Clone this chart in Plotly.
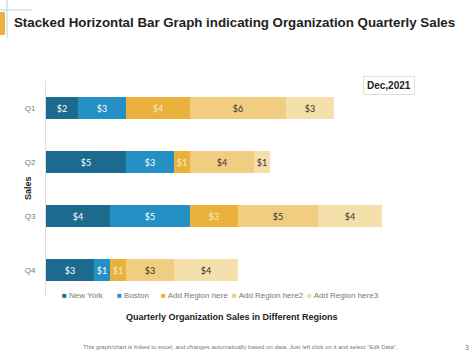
import plotly.graph_objects as go

quarters = ["Q1", "Q2", "Q3", "Q4"]
series_names = ["New York", "Boston", "Add Region here", "Add Region here2", "Add Region here3"]
new_york = [2, 5, 4, 3]
boston = [3, 3, 5, 1]
region1 = [4, 1, 3, 1]
region2 = [6, 4, 5, 3]
region3 = [3, 1, 4, 4]
values = [new_york, boston, region1, region2, region3]
colors = ["#1D6A8F", "#2490C4", "#EAB23C", "#F0CD80", "#F5DFAA"]
text_colors = ["#FFFFFF", "#FFFFFF", "#F7EBCB", "#333333", "#333333"]
legend_x_px = [60, 115, 159, 230, 305]

W, H = 474, 355
L, R, T, B = 46, 52, 81, 58
pw, ph = W - L - R, H - T - B

def px(x):
    return (x - L) / pw

def py(y):
    return (H - B - y) / ph

fig = go.Figure()
for name, vals, c, tc in zip(series_names, values, colors, text_colors):
    fig.add_trace(go.Bar(
        y=quarters, x=vals, name=name, orientation="h",
        marker=dict(color=c, line=dict(width=0)),
        texttemplate="$%{x}", textposition="inside", insidetextanchor="middle",
        textfont=dict(color=tc, size=9, family="Lato"),
        constraintext="none", showlegend=False,
    ))

fig.update_layout(
    width=W, height=H,
    margin=dict(l=L, r=R, t=T, b=B),
    barmode="stack", bargap=0.6,
    paper_bgcolor="white", plot_bgcolor="white",
    showlegend=False,
    xaxis=dict(range=[0, pw / 16], visible=False, fixedrange=True),
    yaxis=dict(categoryorder="array", categoryarray=quarters[::-1],
               showline=True, linecolor="#DDDDDD", linewidth=1,
               ticks="", tickfont=dict(size=8, color="#777777", family="Liberation Sans"),
               ticklabelstandoff=8, showgrid=False),
)

ann = [
    dict(text="<b>Stacked Horizontal Bar Graph indicating Organization Quarterly Sales</b>",
         x=px(12), y=py(23), xanchor="left", yanchor="middle",
         font=dict(size=13.3, color="#222222", family="Liberation Sans")),
    dict(text="<b>Sales</b>", x=px(28), y=py(188), textangle=-90, xanchor="center", yanchor="middle",
         font=dict(size=9, color="#222222", family="Liberation Sans")),
    dict(text="<b>Quarterly Organization Sales in Different Regions</b>",
         x=px(232), y=py(317), xanchor="center", yanchor="middle",
         font=dict(size=9, color="#222222", family="Liberation Sans")),
    dict(text="<b>Dec,2021</b>", x=px(389), y=py(85.5), xanchor="center", yanchor="middle",
         font=dict(size=10, color="#222222", family="Liberation Sans"),
         bordercolor="#E0E0E0", borderwidth=1, borderpad=3, bgcolor="white"),
    dict(text="This graph/chart is linked to excel, and changes automatically based on data. Just left click on it and select \u201cEdit Data\u201d.",
         x=px(241), y=py(347), xanchor="center", yanchor="middle",
         font=dict(size=6, color="#777777", family="Liberation Sans")),
    dict(text="3", x=px(467), y=py(347), xanchor="center", yanchor="middle",
         font=dict(size=7, color="#777777", family="Liberation Sans")),
]
for name, c, lx in zip(series_names, colors, legend_x_px):
    ann.append(dict(text=f"<span style='color:{c}'>\u25A0</span> {name}",
                    x=px(lx), y=py(295), xanchor="left", yanchor="middle",
                    font=dict(size=8, color="#777777", family="Liberation Sans")))
for a in ann:
    a.update(xref="paper", yref="paper", showarrow=False)
    fig.add_annotation(**a)

fig.add_shape(type="rect", xref="paper", yref="paper", x0=px(0), x1=px(5), y0=py(35), y1=py(12),
              fillcolor="#EAB23C", line=dict(width=0))
fig.add_shape(type="line", xref="paper", yref="paper", x0=px(7), x1=px(7), y0=py(0), y1=py(38),
              line=dict(color="#B8D4E4", width=1))
fig.add_shape(type="line", xref="paper", yref="paper", x0=px(0), x1=px(32), y0=py(10), y1=py(10),
              line=dict(color="#B8D4E4", width=1))

fig.write_html("out.html", config={"displayModeBar": False},
               post_script="document.body.style.margin='0';document.body.style.overflow='hidden';")
